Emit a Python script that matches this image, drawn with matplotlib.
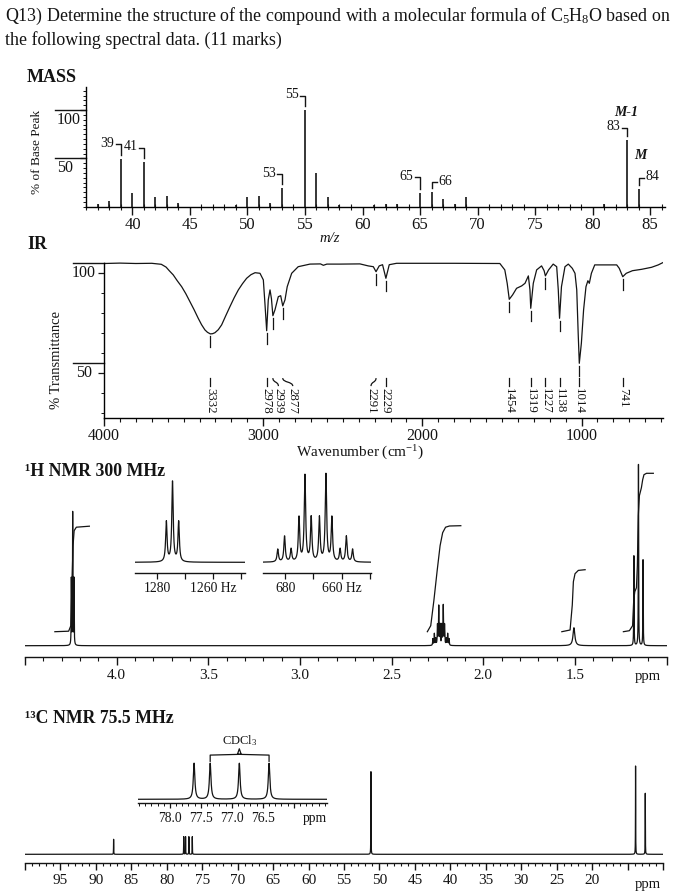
import numpy as np
import matplotlib
matplotlib.use("Agg")
import matplotlib.pyplot as plt
import matplotlib.transforms as mtrans
from matplotlib.ticker import MultipleLocator, FixedLocator, FixedFormatter, NullFormatter
from matplotlib.path import Path
from matplotlib.patches import PathPatch

plt.rcParams['font.family'] = ['Liberation Serif', 'DejaVu Serif']
plt.rcParams['mathtext.fontset'] = 'custom'
plt.rcParams['mathtext.rm'] = 'Liberation Serif'
plt.rcParams['mathtext.it'] = 'Liberation Serif:italic'
plt.rcParams['mathtext.bf'] = 'Liberation Serif:bold'
plt.rcParams['axes.linewidth'] = 1.0

INK = '#141414'

# ======================= DATA =======================
# Mass spectrum (m/z, % of base peak)
mass_mz = [37, 38, 39, 40, 41, 42, 43, 44, 49, 50, 51, 52, 53, 55, 56, 57, 58,
           61, 62, 63, 65, 66, 67, 68, 69, 81, 83, 84]
mass_int = [3, 6, 49, 14, 46, 10, 11, 3.5, 2, 10, 11.5, 4, 19, 100, 35, 10, 1.5,
            2, 3, 3, 14.5, 15, 8, 3, 10, 2.5, 69, 18]
mass_label_mz = [39, 41, 53, 55, 65, 66, 83, 84]
mass_xticks = [40, 45, 50, 55, 60, 65, 70, 75, 80, 85]

# IR spectrum (wavenumber cm-1, %T)
ir_wn = [4000, 3900, 3800, 3700, 3640, 3610, 3590, 3565, 3540, 3512, 3486, 3460, 3434,
         3408, 3387, 3366, 3350, 3332, 3318, 3303, 3282, 3261, 3235, 3209, 3182, 3156,
         3130, 3104, 3077, 3051, 3020, 2999, 2989, 2978, 2968, 2957,
         2948, 2939, 2926, 2905, 2890, 2877, 2863, 2849, 2821, 2780, 2706, 2640,
         2622, 2600, 2518, 2392, 2340, 2308, 2291, 2271, 2250, 2229, 2208, 2162,
         1800, 1513, 1482, 1467, 1454, 1433, 1408, 1376, 1355, 1334, 1324, 1319,
         1303, 1282, 1251, 1235, 1227, 1207, 1178, 1156, 1146, 1138, 1126, 1104,
         1083, 1058, 1041, 1030, 1021, 1014, 1001, 987, 972, 960, 951, 938, 917,
         779, 763, 750, 741, 719, 680, 622, 560, 518, 490]
ir_t = [104.6, 104.8, 104.6, 104.7, 104.2, 102.8, 101.0, 98.9, 96.0, 93.0, 89.5, 85.5, 81.5,
        77.2, 74.0, 71.4, 70.2, 69.4, 69.5, 70.0, 71.5, 73.9, 78.5, 83.0, 87.5, 91.4,
        94.5, 97.2, 99.0, 100.0, 99.7, 96.4, 84.7, 71.0, 86.4, 91.4,
        87.0, 78.5, 81.4, 88.0, 88.5, 83.4, 86.4, 93.0, 99.7, 103.0, 104.3, 104.4,
        103.7, 104.3, 104.3, 104.4, 103.4, 103.0, 100.5, 103.4, 104.0, 97.2, 104.0, 104.7,
        104.7, 104.6, 101.4, 94.7, 86.7, 88.9, 92.2, 93.4, 94.7, 98.4, 91.4, 82.2,
        94.7, 101.4, 103.4, 101.0, 98.4, 101.4, 104.3, 103.0, 91.4, 77.2, 93.0, 103.0,
        104.3, 102.2, 99.7, 91.4, 69.7, 54.7, 64.7, 81.4, 93.0, 96.0, 94.7, 99.7, 103.9,
        103.9, 102.2, 99.7, 98.0, 99.7, 101.0, 101.7, 102.7, 103.9, 105.0]
ir_peak_wn = [3332, 2978, 2939, 2877, 2291, 2229, 1454, 1319, 1227, 1138, 1014, 741]
ir_xticks = [4000, 3000, 2000, 1000]

# 1H NMR (ppm, intensity, line width ppm)
h_ppm = [4.2473, 4.2400, 4.2327,
         2.2753, 2.2673, 2.2597, 2.2503, 2.2433, 2.2360, 2.2263, 2.2187, 2.2117,
         2.2020, 2.1947, 2.1873,
         1.506,
         1.179, 1.154, 1.129]
h_height = [66, 132, 66,
            6.5, 11.6, 6.5, 19.8, 38.7, 19.8, 19.8, 39.3, 19.8, 6.5, 11.6, 6.5,
            18,
            90, 181, 86]
h_fwhm = [0.002, 0.002, 0.002,
          0.003, 0.003, 0.003, 0.003, 0.003, 0.003, 0.003, 0.003, 0.003, 0.003, 0.003, 0.003,
          0.012,
          0.002, 0.002, 0.002]
h_int1_ppm = [4.337, 4.262, 4.250, 4.244, 4.238, 4.232, 4.220, 4.149]
h_int1_lvl = [14, 14.5, 20, 60, 100, 115, 118.5, 119.5]
h_int2_ppm = [2.3055, 2.287, 2.270, 2.252, 2.236, 2.222, 2.206, 2.185, 2.123]
h_int2_lvl = [14, 20, 45, 75, 100, 113, 118.5, 119.7, 120]
h_int3_ppm = [1.572, 1.527, 1.515, 1.509, 1.500, 1.482, 1.445]
h_int3_lvl = [14, 15.7, 40.7, 64, 72, 75.3, 76]
h_int4_ppm = [1.2362, 1.2035, 1.186, 1.180, 1.174, 1.165, 1.160, 1.155, 1.149,
              1.138, 1.131, 1.124, 1.110, 1.073]
h_int4_lvl = [14, 15, 20, 45, 54, 58, 80, 130, 150, 158, 166, 171, 172.4, 172.4]
h_xticks = [4.5, 4.0, 3.5, 3.0, 2.5, 2.0, 1.5, 1.0]
h_xticklabels = ['', '4.0', '3.5', '3.0', '2.5', '2.0', '1.5', '']

# 1H insets (Hz)
hi1_hz = [1276.8, 1274.6, 1272.4]
hi1_h = [40, 80, 40]
hi2_hz = [682.6, 680.2, 677.9, 675.1, 673.0, 670.8, 667.9, 665.6, 663.5, 660.6, 658.4, 656.2]
hi2_h = [12.7, 25.7, 12.7, 44, 86, 44, 44, 87, 44, 12.7, 25.7, 12.7]
hi1_ticks = [1280, 1270, 1260, 1250]
hi1_labels = ['1280', '', '1260 Hz', '']
hi2_ticks = [680, 670, 660, 650]
hi2_labels = ['680', '', '660 Hz', '']

# 13C NMR
c_ppm = [87.5, 77.61, 77.35, 76.88, 76.40, 51.2, 13.87, 12.5]
c_height = [15, 17.6, 17.6, 17.6, 17.6, 82.6, 88.3, 61]
c_inset_ppm = [77.61, 77.35, 76.88, 76.40]
c_inset_height = [36, 36, 36, 36]
c_xticks = [100, 95, 90, 85, 80, 75, 70, 65, 60, 55, 50, 45, 40, 35, 30, 25, 20, 15, 10]
c_xticklabels = ['', '95', '90', '85', '80', '75', '70', '65', '60', '55', '50', '45',
                 '40', '35', '30', '25', '20', '', '']
ci_xticks = [78.0, 77.5, 77.0, 76.5, 76.0]
ci_xticklabels = ['78.0', '77.5', '77.0', '76.5', '']


def lor(x, centers, heights, fwhm):
    x = np.asarray(x, dtype=float)
    y = np.zeros_like(x)
    if np.isscalar(fwhm):
        fwhm = [fwhm] * len(centers)
    for c, h, w in zip(centers, heights, fwhm):
        y += h / (1.0 + ((x - c) / (w / 2.0)) ** 2)
    return y


# ======================= LAYOUT =======================
W, H = 680, 896
fig = plt.figure(figsize=(W / 100, H / 100), dpi=100)
fig.patch.set_facecolor('white')


def rect(x0, y0, x1, y1):
    return [x0 / W, 1 - y1 / H, (x1 - x0) / W, (y1 - y0) / H]


def ftext(x, y, s, **kw):
    kw.setdefault('color', INK)
    kw.setdefault('va', 'center')
    fig.text(x / W, 1 - y / H, s, **kw)


def only_bottom(ax):
    for s in ['top', 'right', 'left']:
        ax.spines[s].set_visible(False)
    ax.spines['bottom'].set_color(INK)
    ax.set_yticks([])
    ax.set_facecolor('none')


# ---- question text ----
ftext(5, 16, "Q13) Determine the structure of the compound with a molecular formula of C$_5$H$_8$O based on",
      fontsize=12.9, ha='left')
ftext(5, 40, "the following spectral data. (11 marks)", fontsize=12.9, ha='left')

# ======================= MASS =======================
mx0, my0, mx1, my1 = 86, 87, 665, 206.7
axm = fig.add_axes(rect(mx0, my0, mx1, my1))
axm.set_facecolor('none')
axm.vlines(mass_mz, 0, mass_int, color=INK, lw=1.2)
axm.set_xlim(35.96, 86.3)
axm.set_ylim(0, 123.8)
for s in ['top', 'right']:
    axm.spines[s].set_visible(False)
axm.xaxis.set_major_locator(FixedLocator(mass_xticks))
axm.xaxis.set_minor_locator(MultipleLocator(1))
axm.tick_params(axis='x', which='major', direction='out', length=6, width=1, pad=1.2,
                labelsize=12, colors=INK)
axm.tick_params(axis='x', which='minor', direction='inout', length=5, width=0.8, colors=INK)
axm.yaxis.set_major_locator(FixedLocator([50, 100]))
axm.yaxis.set_minor_locator(MultipleLocator(5))
axm.yaxis.set_major_formatter(NullFormatter())
axm.tick_params(axis='y', which='major', direction='out', length=4, width=0.9, colors=INK)
axm.tick_params(axis='y', which='minor', direction='out', length=2.5, width=0.7, colors=INK)

mpx_x = (mx1 - mx0) / (86.3 - 35.96)
mpx_y = (my1 - my0) / 123.8
mw = mx1 - mx0
mblend = mtrans.blended_transform_factory(axm.transAxes, axm.transData)
for lvl, txt in [(100, '100'), (50, '50')]:
    axm.plot([-31 / mw, 0], [lvl, lvl], transform=mblend, color=INK, lw=1, clip_on=False)
    axm.text(-29 / mw, lvl - 2.0 / mpx_y, txt, transform=mblend, ha='left', va='top',
             fontsize=11.5, color=INK)

label_off = {39: 15, 41: 14.5, 53: 14, 55: 14.3, 65: 15.6, 66: 10, 83: 12.4, 84: 11.5}
label_side = {39: 'l', 41: 'l', 53: 'l', 55: 'l', 65: 'l', 66: 'r', 83: 'l', 84: 'r'}
for mz in mass_label_mz:
    h = mass_int[mass_mz.index(mz)]
    top = h + label_off[mz] / mpx_y
    leg = (label_off[mz] - 4) / mpx_y
    arm = 5 / mpx_x
    if label_side[mz] == 'l':
        axm.plot([mz - arm, mz, mz], [top, top, top - leg], color=INK, lw=1, clip_on=False)
        axm.text(mz - arm - 1.5 / mpx_x, top + 0.8 / mpx_y, str(mz), ha='right', va='center',
                 fontsize=10, color=INK)
    else:
        axm.plot([mz, mz, mz + arm], [top - leg, top, top], color=INK, lw=1, clip_on=False)
        axm.text(mz + arm + 1.5 / mpx_x, top + 0.8 / mpx_y, str(mz), ha='left', va='center',
                 fontsize=10, color=INK)
h83 = mass_int[mass_mz.index(83)]
h84 = mass_int[mass_mz.index(84)]
axm.text(83 - 1 / mpx_x, h83 + 27.4 / mpx_y, 'M-1', style='italic', weight='bold',
         ha='center', va='center', fontsize=10, color=INK, clip_on=False)
axm.text(84 + 2 / mpx_x, h84 + 34 / mpx_y, 'M', style='italic', weight='bold',
         ha='center', va='center', fontsize=10, color=INK, clip_on=False)

ftext(27, 77, 'MASS', weight='bold', fontsize=13, ha='left')
ftext(37, 152, '% of Base Peak', rotation=90, fontsize=9.5, ha='center')
ftext(330, 238, 'm/z', style='italic', fontsize=10.5, ha='center')

# ======================= IR =======================
ix0, iy0, ix1, iy1 = 104, 260.7, 662.7, 417.7
axi = fig.add_axes(rect(ix0, iy0, ix1, iy1))
axi.set_facecolor('none')
axi.plot(ir_wn, ir_t, color=INK, lw=0.9)
axi.set_xlim(4000, 490)
axi.set_ylim(27.5, 106)
for s in ['top', 'right']:
    axi.spines[s].set_visible(False)
axi.spines['left'].set_bounds(27.5, 104.7)
axi.xaxis.set_major_locator(FixedLocator(ir_xticks))
axi.xaxis.set_minor_locator(MultipleLocator(100))
axi.tick_params(axis='x', which='major', direction='out', length=5.5, width=1, pad=2,
                labelsize=11.5, colors=INK)
axi.tick_params(axis='x', which='minor', direction='out', length=3, width=0.8, colors=INK)
axi.yaxis.set_major_locator(FixedLocator([50, 100]))
axi.yaxis.set_minor_locator(MultipleLocator(10))
axi.yaxis.set_major_formatter(NullFormatter())
axi.tick_params(axis='y', which='major', direction='out', length=4, width=0.9, colors=INK)
axi.tick_params(axis='y', which='minor', direction='out', length=2.5, width=0.7, colors=INK)

ipx_x = (ix1 - ix0) / (4000 - 490)
iw = ix1 - ix0
iblend = mtrans.blended_transform_factory(axi.transAxes, axi.transData)
for lvl, txt in [(100, '100'), (50, '50')]:
    axi.plot([-31 / iw, 0], [lvl + 4.7, lvl + 4.7], transform=iblend, color=INK, lw=1,
             clip_on=False)
    axi.text(-20 / iw, lvl, txt, transform=iblend, ha='center', va='center',
             fontsize=11.5, color=INK)

wn_sorted = np.array(ir_wn[::-1], dtype=float)
t_sorted = np.array(ir_t[::-1], dtype=float)
ir_label_shift_px = {2939: 5.5, 2877: 10, 2291: -5}
for p in ir_peak_wn:
    tmin = np.interp(p, wn_sorted, t_sorted)
    axi.plot([p, p], [tmin - 1.2, tmin - 6.5], color=INK, lw=0.9)
    lx = p - ir_label_shift_px.get(p, 0) / ipx_x
    if lx == p:
        axi.plot([p, p], [47.3, 43.3], color=INK, lw=0.9)
    else:
        path = Path([(p, 47.3), (p, 45.0), (lx, 45.6), (lx, 43.3)],
                    [Path.MOVETO, Path.CURVE4, Path.CURVE4, Path.CURVE4])
        axi.add_patch(PathPatch(path, fc='none', ec=INK, lw=0.9))
    axi.text(lx, 42.4, str(p), rotation=-90, ha='center', va='top', fontsize=9.3,
             color=INK, linespacing=1.0)

ftext(27, 244, 'IR', weight='bold', fontsize=13, ha='left')
ftext(57, 360, '% Transmittance', rotation=90, fontsize=10.5, ha='center')
ftext(360, 453, 'Wavenumber (cm$^{-1}$)', fontsize=11, ha='center')

# ======================= 1H NMR =======================
axh = fig.add_axes(rect(25, 455, 666.7, 656.7))
only_bottom(axh)
xh = np.linspace(4.5, 1.0, 24001)
axh.plot(xh, lor(xh, h_ppm, h_height, h_fwhm), color=INK, lw=0.9)
for xs, ys in [(h_int1_ppm, h_int1_lvl), (h_int2_ppm, h_int2_lvl),
               (h_int3_ppm, h_int3_lvl), (h_int4_ppm, h_int4_lvl)]:
    axh.plot(xs, ys, color=INK, lw=0.9)
axh.set_xlim(4.5, 1.0)
axh.set_ylim(-11, 190.7)
axh.xaxis.set_major_locator(FixedLocator(h_xticks))
axh.xaxis.set_major_formatter(FixedFormatter(h_xticklabels))
axh.xaxis.set_minor_locator(MultipleLocator(0.1))
axh.tick_params(axis='x', which='major', direction='out', length=5.5, width=1, pad=3,
                labelsize=11, colors=INK)
axh.tick_params(axis='x', which='minor', direction='out', length=3, width=0.8, colors=INK)
ftext(648, 676.5, 'ppm', fontsize=10.5, ha='center')
ftext(25, 471.5, '\u00b9H NMR 300 MHz', weight='bold', fontsize=12.8, ha='left')

# insets
for (xa, xb, lim, hz, hh, tks, tls) in [
        (135, 245, (1288, 1248.7), hi1_hz, hi1_h, hi1_ticks, hi1_labels),
        (263.3, 370.7, (687.7, 649.8), hi2_hz, hi2_h, hi2_ticks, hi2_labels)]:
    axs = fig.add_axes(rect(xa, 470, xb, 573.3))
    only_bottom(axs)
    xx = np.linspace(lim[0], lim[1], 4000)
    axs.plot(xx, lor(xx, hz, hh, 0.6), color=INK, lw=0.9)
    axs.set_xlim(*lim)
    axs.set_ylim(-11, 92.3)
    axs.xaxis.set_major_locator(FixedLocator(tks))
    axs.xaxis.set_major_formatter(FixedFormatter(tls))
    axs.tick_params(axis='x', which='major', direction='out', length=4, width=0.9, pad=2.5,
                    labelsize=9.8, colors=INK)

# ======================= 13C NMR =======================
axc = fig.add_axes(rect(25, 745, 663, 863.3))
only_bottom(axc)
xc = np.linspace(100, 10, 36001)
axc.plot(xc, lor(xc, c_ppm, c_height, 0.03), color=INK, lw=0.9)
axc.set_xlim(100, 10)
axc.set_ylim(-9, 109.3)
axc.xaxis.set_major_locator(FixedLocator(c_xticks))
axc.xaxis.set_major_formatter(FixedFormatter(c_xticklabels))
axc.xaxis.set_minor_locator(MultipleLocator(1))
axc.tick_params(axis='x', which='major', direction='out', length=5, width=1, pad=2.5,
                labelsize=11, colors=INK)
axc.tick_params(axis='x', which='minor', direction='out', length=2.5, width=0.8, colors=INK)
ftext(648, 884, 'ppm', fontsize=10.5, ha='center')
ftext(25, 718, '\u00b9\u00b3C NMR 75.5 MHz', weight='bold', fontsize=12.8, ha='left')

axci = fig.add_axes(rect(138.3, 735, 326.7, 803.3))
only_bottom(axci)
xci = np.linspace(78.51, 75.47, 4000)
axci.plot(xci, lor(xci, c_inset_ppm, c_inset_height, 0.03), color=INK, lw=0.9)
axci.set_xlim(78.51, 75.47)
axci.set_ylim(-4, 64.3)
axci.xaxis.set_major_locator(FixedLocator(ci_xticks))
axci.xaxis.set_major_formatter(FixedFormatter(ci_xticklabels))
axci.xaxis.set_minor_locator(MultipleLocator(0.1))
axci.tick_params(axis='x', which='major', direction='out', length=3.5, width=0.9, pad=2.5,
                 labelsize=9.8, colors=INK)
axci.tick_params(axis='x', which='minor', direction='out', length=2, width=0.7, colors=INK)
ftext(315, 818, 'ppm', fontsize=9.8, ha='center')

# CDCl3 brace
b1, bm, b2 = c_inset_ppm[1], c_inset_ppm[2], c_inset_ppm[3]
axci.plot([b1, b1, bm - 0.03, bm, bm + 0.03, b2, b2],
          [38, 44.2, 45, 50.5, 45, 44.2, 38], color=INK, lw=0.9, clip_on=False)
axci.text(bm, 58.5, 'CDCl$_3$', ha='center', va='center', fontsize=9, color=INK)

fig.savefig('out.png', dpi=100, facecolor='white')
